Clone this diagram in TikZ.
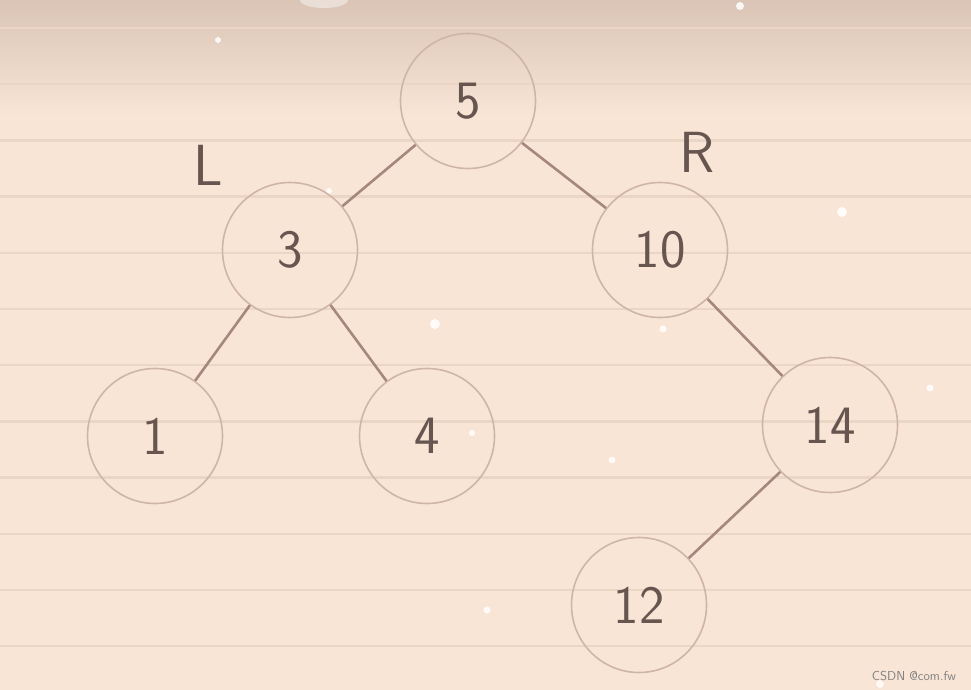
\documentclass[tikz,border=0pt]{standalone}
\usepackage{tikz}
\definecolor{papier}{HTML}{F9E5D6}
\definecolor{papierhaut}{HTML}{D9C4B6}
\definecolor{ligne}{HTML}{EBD5C5}
\definecolor{cercle}{HTML}{CFB5A7}
\definecolor{trait}{HTML}{A4887B}
\definecolor{encre}{HTML}{675650}

\begin{document}
\begin{tikzpicture}[x=1pt,y=-1pt]
\tikzset{tinoeud/.style={draw=cercle, line width=1.6pt, circle, minimum size=135pt, inner sep=0pt, text=encre, font=\sffamily\fontsize{54}{60}\selectfont}}
\tikzset{arete/.style={draw=trait, line width=2.6pt}}
\tikzset{lettre/.style={text=encre, font=\sffamily\fontsize{58}{60}\selectfont}}
\useasboundingbox (0,0) rectangle (971,690);
% papier
\fill[papier] (0,0) rectangle (971,690);
\shade[top color=papierhaut, bottom color=papier] (0,0) rectangle (971,115);
\foreach \k in {0,...,11}
  \draw[ligne, line width=2.5pt] (0,28+56.2*\k) -- (971,28+56.2*\k);
% neige
\fill[white, opacity=0.45] (324,0) ellipse [x radius=24pt, y radius=8pt];
\foreach \x/\y/\r in {218/40/3, 740/6/4, 329/191/3, 842/212/5, 435/324/5, 663/329/3.5,
  472/433/3, 612/460/3.5, 930/388/3.5, 487/610/3.5, 880/684/4}
  \fill[white, opacity=0.85] (\x,\y) circle (\r pt);
% arbre
\node[tinoeud] (N5) at (468,101) {5};
\node[tinoeud] (N3) at (290,250) {3};
\node[tinoeud] (N10) at (660,250) {10};
\node[tinoeud] (N1) at (155,436) {1};
\node[tinoeud] (N4) at (427,436) {4};
\node[tinoeud] (N14) at (830,425) {14};
\node[tinoeud] (N12) at (639,605) {12};
\node[lettre] (L) at (208,165) {L};
\node[lettre] (R) at (697,152) {R};
\draw[arete] (N5) -- (N3);
\draw[arete] (N5) -- (N10);
\draw[arete] (N3) -- (N1);
\draw[arete] (N3) -- (N4);
\draw[arete] (N10) -- (N14);
\draw[arete] (N14) -- (N12);
\node[text=gray, font=\sffamily\fontsize{13}{14}\selectfont] (CSDN) at (914,676) {CSDN @com.fw};
\end{tikzpicture}
\end{document}
